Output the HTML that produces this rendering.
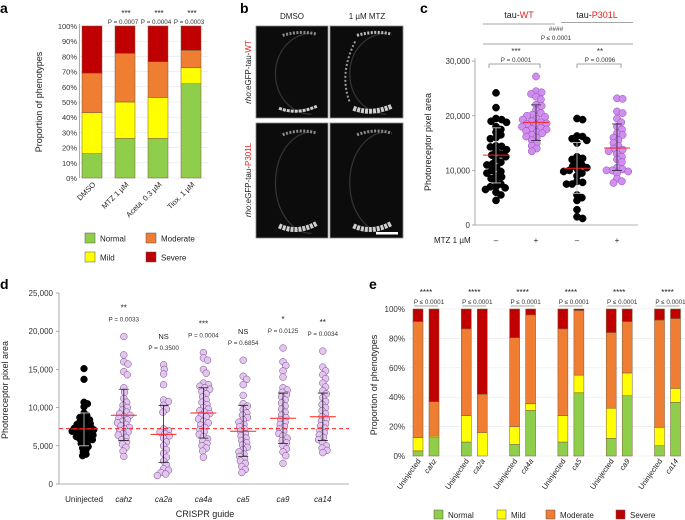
<!DOCTYPE html>
<html><head><meta charset="utf-8"><style>
body{margin:0;background:#fff;}
svg{display:block;font-family:"Liberation Sans",Arial,sans-serif;}
</style></head><body>
<svg id="fig" width="685" height="520" viewBox="0 0 685 520" xmlns="http://www.w3.org/2000/svg">
<g font-weight="bold" font-size="14">
<text x="0" y="13">a</text>
<text x="240" y="13">b</text>
<text x="420" y="13">c</text>
<text x="0" y="289">d</text>
<text x="369" y="289">e</text>
</g>
<g id="pa"></g>
<g id="pb"></g>
<g id="pc"></g>
<g id="pd"></g>
<g id="pe"></g>
</svg>
<script>
// ---------- DATA ----------
const aCats=["DMSO","MTZ 1 µM","Aceta. 0.3 µM","Tiox. 1 µM"];
const aNormal=[16,26,26,62];
const aMild=[27,24,27,10.5];
const aModerate=[26,32,23.5,11.5];
const aSevere=[31,18,23.5,16];
const aStars=["","***","***","***"];
const aP=["","P = 0.0007","P = 0.0004","P = 0.0003"];
const aTicks=[0,10,20,30,40,50,60,70,80,90,100];

const cGroups=["WT-","WT+","P301L-","P301L+"];
const cSigns=["–","+","–","+"];
const cWTminus=[24200,21500,19500,19300,19000,18800,17500,17000,16000,15800,14500,14400,14300,13800,13500,13000,12800,12500,12000,11500,11000,10500,10000,9800,9500,9000,8800,8500,8000,7500,7000,7000,6800,6500,6000,5500,4500,16500,18000,11200];
const cWTplus=[27200,24500,24300,24000,23500,23000,22000,21000,20500,20000,19800,19500,19300,19000,18800,18500,18300,18000,17800,17500,17200,17000,16800,16500,16200,16000,15500,15000,14500,14000,13500,21800,20200,18600,17600];
const cMutMinus=[19500,19300,16300,16200,15800,15500,15000,12500,12200,11500,11000,10800,10500,10200,10000,9800,9500,8000,7800,7500,7500,5500,5000,4500,2800,1500,1200,12000,9000];
const cMutPlus=[23200,23100,20800,20500,19500,18800,18000,17500,16500,16000,15500,15000,14500,14000,13800,13500,12500,12000,11500,10500,10200,10000,10000,9800,9500,8500,8000,7700,16800,13000];
const cMeans=[12800,18800,10400,14100];
const cSDlo=[7700,15500,5800,10000];
const cSDhi=[17800,22000,15100,18500];
const cTicks=[0,10000,20000,30000];

const dCats=["Uninjected","cahz","ca2a","ca4a","ca5","ca9","ca14"];
const dUninj=[15100,13700,10700,10500,10100,9300,9000,8800,8700,8500,8400,8200,8100,8000,7900,7800,7700,7600,7500,7400,7300,7300,7200,7100,7000,7000,6900,6800,6700,6600,6500,6400,6300,6200,6100,6000,5900,5800,5600,5500,5300,5100,4900,4700,4500,4200,3900,3700];
const dCahz=[19300,16900,16000,15700,14700,14300,12600,12000,11200,10700,10300,10000,9700,9400,9200,9000,8800,8600,8400,8200,8000,7800,7600,7400,7200,7000,6800,6600,6400,6100,5800,5500,5200,4800,4300,3600];
const dCa2a=[15600,15000,14400,13000,11000,10800,10300,9800,9400,7200,7000,6800,6600,6300,6000,5500,5000,4500,4000,3500,3000,2500,2000,1800,1500,1300,1100];
const dCa4a=[17200,16500,16200,15000,14500,13200,13000,12800,12600,12400,12100,11800,11400,11000,10700,10400,10000,9800,9600,9400,9200,9000,8800,8500,8200,8000,7700,7400,7100,6800,6500,6200,5900,5600,5300,5000,4700,4300,3500];
const dCa5=[16200,14100,13700,13000,11600,10500,10200,9700,9300,9000,8700,8400,8100,7800,7500,7200,6900,6600,6300,6000,5700,5400,5100,4800,4500,4200,3900,3600,3300,3000,2700,2300,1900,1500];
const dCa9=[17800,16000,15500,14800,14000,12600,12300,12000,11700,11400,11000,10600,10200,9800,9400,9000,8700,8400,8100,7800,7500,7200,6900,6600,6300,6000,5700,5400,5000,4600,4200,3700,2700];
const dCa14=[17400,15300,14800,14300,13800,13200,12700,12200,11800,11300,10800,10400,10000,9600,9200,8800,8500,8200,7900,7600,7300,7000,6700,6400,6100,5800,5400,5000,4700,4400,4100];
const dMeans=[7200,9000,6500,9300,6900,8600,8800];
const dSDlo=[5000,5700,2800,6000,3600,5300,5700];
const dSDhi=[9300,12400,10300,12600,10300,11900,11900];
const dStars=["","**","NS","***","NS","*","**"];
const dP=["","P = 0.0033","P = 0.3500","P = 0.0004","P = 0.6854","P = 0.0125","P = 0.0034"];
const dRef=7250;
const dTicks=[0,5000,10000,15000,20000,25000];

const eCats=["Uninjected","cahz","Uninjected","ca2a","Uninjected","ca4a","Uninjected","ca5","Uninjected","ca9","Uninjected","ca14"];
const eNormal=[3.5,12.5,9.5,0,8,31,9.5,43,12,41,7,36.5];
const eMild=[9,1,18,16,12,4.5,18,12,20.5,15.5,12.5,9.5];
const eModerate=[79,23.5,59,26,60.5,60.5,59,44,51.5,35,73,47.5];
const eSevere=[8.5,63,13.5,58,19.5,4,13.5,1,16,8.5,7.5,6.5];
const eTicks=[0,20,40,60,80,100];

// ---------- HELPERS ----------
const NS="http://www.w3.org/2000/svg";
function el(parent,tag,attrs,text){const e=document.createElementNS(NS,tag);for(const k in attrs)e.setAttribute(k,attrs[k]);if(text!==undefined)e.textContent=text;parent.appendChild(e);return e;}
const COL={n:"#8fce4a",mi:"#ffff00",mo:"#ef7d32",s:"#c00000"};
const fmt=v=>v.toLocaleString("en-US");

// ---------- PANEL A ----------
(function(){
const g=document.getElementById("pa");
const y=v=>178-v*1.52;
const xc=i=>92+i*33;
aTicks.forEach(t=>{
 const gl=el(g,"line",{x1:80,x2:208,y1:y(t),y2:y(t),stroke:"#e4e4e4","stroke-width":0.6});
 
 
 const tl=el(g,"text",{x:77,y:y(t)+3,"font-size":7.5,"text-anchor":"end",fill:"#333"},t+"%");
 
 
});
const ax=el(g,"line",{x1:79.5,x2:79.5,y1:24,y2:178,stroke:"#999","stroke-width":0.8});


const yl=el(g,"text",{x:0,y:0,"font-size":9,"text-anchor":"middle",fill:"#222",transform:"translate(42,102) rotate(-90)"},"Proportion of phenotypes");


aCats.forEach((c,i)=>{
 let base=0;
 [[aNormal,COL.n],[aMild,COL.mi],[aModerate,COL.mo],[aSevere,COL.s]].forEach(([arr,col])=>{
  const v=arr[i];
  const r=el(g,"rect",{x:xc(i)-10,y:y(base+v),width:20,height:v*1.52,fill:col,stroke:"#7a5a3a","stroke-width":0.5});
  
  
  base+=v;
 });
 const xl=el(g,"text",{x:0,y:0,"font-size":7.5,"text-anchor":"end",fill:"#222",transform:`translate(${xc(i)+4},185) rotate(-45)`},c);
 
 
 if(aStars[i]){
  const st=el(g,"text",{x:xc(i)+1,y:16,"font-size":8,"text-anchor":"middle",fill:"#222"},aStars[i]);
  
  
  const pt=el(g,"text",{x:xc(i)-2,y:24,"font-size":6.3,"text-anchor":"middle",fill:"#333"},aP[i]);
  
  
 }
});
[["Normal",COL.n,85,233],["Moderate",COL.mo,146,233],["Mild",COL.mi,85,252],["Severe",COL.s,146,252]].forEach(([t,c,x,yy])=>{
 const s=el(g,"rect",{x:x,y:yy,width:10,height:10,fill:c,stroke:"#555","stroke-width":0.5});
 
 
 const lt=el(g,"text",{x:x+15,y:yy+8.5,"font-size":8,fill:"#222"},t);
 
 
});
})();

// ---------- PANEL B (microscopy) ----------
(function(){
const g=document.getElementById("pb");
const boxes=[[256,26,72,92],[330,26,73,92],[256,123,72,115],[330,123,73,115]];
boxes.forEach((b,i)=>{
 const r=el(g,"rect",{x:b[0],y:b[1],width:b[2],height:b[3],fill:"#0c0c0c",stroke:"#888","stroke-width":0.8});
 
 
 const cx=b[0]+b[2]*0.62, cy=b[1]+b[3]*0.52, rx=b[2]*0.5, ry=b[3]*0.44;
 const arc=el(g,"path",{d:`M ${cx+rx*0.3} ${cy-ry} A ${rx} ${ry} 0 0 0 ${cx+rx*0.3} ${cy+ry}`,fill:"none",stroke:"#3a3a3a","stroke-width":1.2,opacity:0.9});
 
 
 const br=(i==1)?"#bdbdbd":"#8a8a8a";
 const top=el(g,"path",{d:`M ${cx-rx*0.5} ${cy-ry*0.95} Q ${cx} ${cy-ry*1.08} ${cx+rx*0.45} ${cy-ry*0.98}`,fill:"none",stroke:br,"stroke-width":3,"stroke-dasharray":"2 1.5"});
 
 
 const bot=el(g,"path",{d:`M ${cx-rx*0.6} ${cy+ry*0.85} Q ${cx-rx*0.1} ${cy+ry*1.02} ${cx+rx*0.45} ${cy+ry*0.8}`,fill:"none",stroke:"#cfcfcf","stroke-width":(i==0)?3:5,"stroke-dasharray":"3 1"});
 
 
 if(i==1){
  const side=el(g,"path",{d:`M ${cx-rx*0.55} ${cy-ry*0.8} Q ${cx-rx*1.0} ${cy} ${cx-rx*0.7} ${cy+ry*0.7}`,fill:"none",stroke:"#999","stroke-width":2,"stroke-dasharray":"2 2"});
  
  
 }
});
const sb=el(g,"rect",{x:376,y:232,width:22,height:2.5,fill:"#fff"});


const t1=el(g,"text",{x:292,y:19,"font-size":8,"text-anchor":"middle",fill:"#222"},"DMSO");


const t2=el(g,"text",{x:367,y:19,"font-size":8,"text-anchor":"middle",fill:"#222"},"1 µM MTZ");


const r1=el(g,"text",{x:0,y:0,"font-size":8,"text-anchor":"middle",fill:"#222",transform:"translate(251,72) rotate(-90)"});
r1.innerHTML='<tspan font-style="italic">rho</tspan>:eGFP-tau-<tspan fill="#e62020">WT</tspan>';


const r2=el(g,"text",{x:0,y:0,"font-size":8,"text-anchor":"middle",fill:"#222",transform:"translate(251,180) rotate(-90)"});
r2.innerHTML='<tspan font-style="italic">rho</tspan>:eGFP-tau-<tspan fill="#e62020">P301L</tspan>';


})();

// swarm layout helper (positions only)
function swarm(vals,yf,r,f){
 const placed=[];const out=[];
 vals.forEach(v=>{
  const py=yf(v);let best=0;
  for(let k=0;k<200;k++){
   const dx=(k%2?1:-1)*Math.ceil(k/2)*0.7;
   if(placed.every(p=>Math.hypot(p[0]-dx,p[1]-py)>=r*f)){best=dx;break;}
  }
  placed.push([best,py]);out.push([best,py,v]);
 });
 return out;
}

// ---------- PANEL C ----------
(function(){
const g=document.getElementById("pc");
const y=v=>225-v*0.00546;
const xs=[496,536,577,617];
const groups=[cWTminus,cWTplus,cMutMinus,cMutPlus];
const ax=el(g,"path",{d:"M475 58 L475 225 L638 225",fill:"none",stroke:"#999","stroke-width":0.8});


cTicks.forEach(t=>{
 const tk=el(g,"line",{x1:472,x2:475,y1:y(t),y2:y(t),stroke:"#999","stroke-width":0.8});
 
 
 const tl=el(g,"text",{x:470,y:y(t)+3,"font-size":8,"text-anchor":"end",fill:"#333"},fmt(t));
 
 
});
const yl=el(g,"text",{x:0,y:0,"font-size":9,"text-anchor":"middle",fill:"#222",transform:"translate(431,142) rotate(-90)"},"Photoreceptor pixel area");


groups.forEach((vals,i)=>{
 const purple=i%2==1;
 swarm(vals.slice().sort((a,b)=>b-a),y,3.6,1.5).forEach(([dx,py])=>{
  const c=el(g,"circle",{cx:xs[i]+dx,cy:py,r:3.6,fill:purple?"#d18ef0":"#000",stroke:purple?"#8a4bb0":"#000","stroke-width":0.5});
  
  
 });
 const sd=el(g,"path",{d:`M${xs[i]} ${y(cSDlo[i])} V${y(cSDhi[i])} M${xs[i]-5} ${y(cSDlo[i])} H${xs[i]+5} M${xs[i]-5} ${y(cSDhi[i])} H${xs[i]+5}`,stroke:purple?"#222":"#ccc","stroke-width":0.8,fill:"none"});
 
 
 const m=el(g,"line",{x1:xs[i]-13,x2:xs[i]+13,y1:y(cMeans[i]),y2:y(cMeans[i]),stroke:"#ff2020","stroke-width":1});
 
 
 const xt=el(g,"text",{x:xs[i],y:243,"font-size":8,"text-anchor":"middle",fill:"#222"},cSigns[i]);
 
 
});
const mz=el(g,"text",{x:434,y:243,"font-size":8,fill:"#222"},"MTZ 1 µM");


const h1=el(g,"text",{x:519,y:18,"font-size":9,"text-anchor":"middle",fill:"#222"});h1.innerHTML='tau-<tspan fill="#e62020">WT</tspan>';


const h2=el(g,"text",{x:597,y:18,"font-size":9,"text-anchor":"middle",fill:"#222"});h2.innerHTML='tau-<tspan fill="#e62020">P301L</tspan>';


const ln=el(g,"path",{d:"M483 24 H555 M561 22.5 H633 M483 44 H633 M489 68 V64 H540 V68 M577 68 V64 H621 V68",stroke:"#888","stroke-width":0.8,fill:"none"});


[["####",556,31,6.5,"c-hash-significance"],["P ≤ 0.0001",556,40,6.3,"c-p-value-main"],["***",516,54,8,"c-stars-wt"],["P = 0.0001",516,62,6.3,"c-p-value-wt"],["**",600,54,8,"c-stars-p301l"],["P = 0.0096",600,62,6.3,"c-p-value-p301l"]].forEach(([t,x,yy,fs,n])=>{
 const tx=el(g,"text",{x:x,y:yy,"font-size":fs,"text-anchor":"middle",fill:"#333"},t);
 
 
});
})();

// ---------- PANEL D ----------
(function(){
const g=document.getElementById("pd");
const y=v=>484-v*0.00764;
const x=i=>84+i*39.8;
const groups=[dUninj,dCahz,dCa2a,dCa4a,dCa5,dCa9,dCa14];
const ax=el(g,"path",{d:"M59 293 L59 484 L349 484",fill:"none",stroke:"#999","stroke-width":0.8});


dTicks.forEach(t=>{
 const tk=el(g,"line",{x1:56,x2:59,y1:y(t),y2:y(t),stroke:"#999","stroke-width":0.8});
 
 
 const tl=el(g,"text",{x:53,y:y(t)+3,"font-size":8,"text-anchor":"end",fill:"#333"},fmt(t));
 
 
});
const yl=el(g,"text",{x:0,y:0,"font-size":9,"text-anchor":"middle",fill:"#222",transform:"translate(8,390) rotate(-90)"},"Photoreceptor pixel area");


const xl=el(g,"text",{x:205,y:517,"font-size":9,"text-anchor":"middle",fill:"#222"},"CRISPR guide");


groups.forEach((vals,i)=>{
 const black=i==0;
 swarm(vals.slice().sort((a,b)=>b-a),y,3.4,black?1.0:1.35).forEach(([dx,py])=>{
  const c=el(g,"circle",{cx:x(i)+dx,cy:py,r:3.4,fill:black?"#000":"#e4c4f0",stroke:black?"#000":"#6e4a7e","stroke-width":0.5});
  
  
 });
 const sd=el(g,"path",{d:`M${x(i)} ${y(dSDlo[i])} V${y(dSDhi[i])} M${x(i)-5} ${y(dSDlo[i])} H${x(i)+5} M${x(i)-5} ${y(dSDhi[i])} H${x(i)+5}`,stroke:black?"#ccc":"#222","stroke-width":0.8,fill:"none"});
 
 
 const m=el(g,"line",{x1:x(i)-13,x2:x(i)+13,y1:y(dMeans[i]),y2:y(dMeans[i]),stroke:"#ff2020","stroke-width":1});
 
 
 const xt=el(g,"text",{x:x(i),y:502,"font-size":8,"text-anchor":"middle",fill:"#222","font-style":i?"italic":"normal"},dCats[i]);
 
 
 if(dStars[i]){
  const top=Math.max(...vals);
  const pyv=y(top)-15;
  const st=el(g,"text",{x:x(i),y:pyv-11,"font-size":dStars[i]=="NS"?7.5:8,"text-anchor":"middle",fill:"#222"},dStars[i]);
  
  
  const pt=el(g,"text",{x:x(i),y:pyv,"font-size":6.3,"text-anchor":"middle",fill:"#333"},dP[i]);
  
  
 }
});
const ref=el(g,"line",{x1:59,x2:349,y1:y(dRef),y2:y(dRef),stroke:"#ff2020","stroke-width":1,"stroke-dasharray":"4 3"});


})();

// ---------- PANEL E ----------
(function(){
const g=document.getElementById("pe");
const y=v=>456-v*1.47;
const x=i=>418+Math.floor(i/2)*48.3+(i%2)*16;
eTicks.forEach(t=>{
 const gl=el(g,"line",{x1:409,x2:685,y1:y(t),y2:y(t),stroke:"#e8e8e8","stroke-width":0.6});
 
 
 const tl=el(g,"text",{x:405,y:y(t)+3,"font-size":8,"text-anchor":"end",fill:"#333"},t+"%");
 
 
});
const yl=el(g,"text",{x:0,y:0,"font-size":9,"text-anchor":"middle",fill:"#222",transform:"translate(377,385) rotate(-90)"},"Proportion of phenotypes");


eCats.forEach((c,i)=>{
 let base=0;
 [[eNormal,COL.n],[eMild,COL.mi],[eModerate,COL.mo],[eSevere,COL.s]].forEach(([arr,col])=>{
  const v=arr[i];
  const r=el(g,"rect",{x:x(i)-5,y:y(base+v),width:10,height:v*1.47,fill:col,stroke:"#7a5a3a","stroke-width":0.5});
  
  
  base+=v;
 });
 const xl=el(g,"text",{x:0,y:0,"font-size":7.5,"text-anchor":"end",fill:"#222","font-style":i%2?"italic":"normal",transform:`translate(${x(i)+3},461) rotate(-55)`},c);
 
 
 if(i%2==1){
  const cx=(x(i)+x(i-1))/2;
  const br=el(g,"line",{x1:x(i-1)-4,x2:x(i)+4,y1:306,y2:306,stroke:"#888","stroke-width":0.8});
  
  
  const st=el(g,"text",{x:cx,y:295,"font-size":8,"text-anchor":"middle",fill:"#222"},"****");
  
  
  const pt=el(g,"text",{x:cx+3,y:304,"font-size":6.3,"text-anchor":"middle",fill:"#333"},"P ≤ 0.0001");
  
  
 }
});
[["Normal",COL.n,434],["Mild",COL.mi,497],["Moderate",COL.mo,546],["Severe",COL.s,616]].forEach(([t,c,xx])=>{
 const s=el(g,"rect",{x:xx,y:510,width:9,height:9,fill:c,stroke:"#555","stroke-width":0.5});
 
 
 const lt=el(g,"text",{x:xx+14,y:518,"font-size":8,fill:"#222"},t);
 
 
});
})();
</script>
</body></html>
